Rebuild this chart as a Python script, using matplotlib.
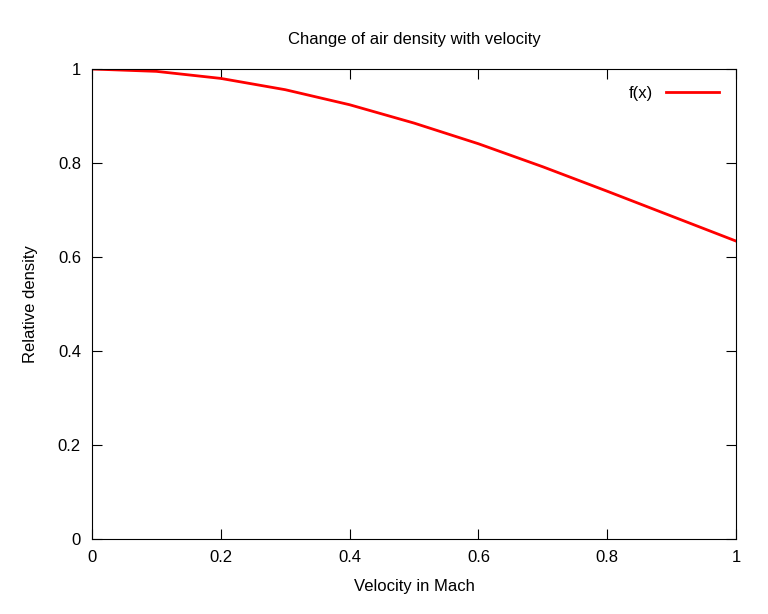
import matplotlib
matplotlib.use("Agg")
import matplotlib.pyplot as plt

plt.rcParams['font.family'] = ['Liberation Sans', 'DejaVu Sans']

# velocity (Mach) and relative density
mach = [0.0, 0.1, 0.2, 0.3, 0.4, 0.5, 0.6, 0.7, 0.8, 0.9, 1.0]
density = [1.0, 0.995, 0.980, 0.956, 0.924, 0.885, 0.841, 0.792, 0.740, 0.687, 0.634]

fig = plt.figure(figsize=(7.68, 6.14), dpi=100)
ax = fig.add_axes([0.1198, 0.1221, 0.8385, 0.7655])

ax.plot(mach, density, color='#ff0000', linewidth=2, label='f(x)')

ax.set_xlim(0, 1)
ax.set_ylim(0, 1)
ax.set_xticks([0, 0.2, 0.4, 0.6, 0.8, 1])
ax.set_xticklabels(['0', '0.2', '0.4', '0.6', '0.8', '1'])
ax.set_yticks([0, 0.2, 0.4, 0.6, 0.8, 1])
ax.set_yticklabels(['0', '0.2', '0.4', '0.6', '0.8', '1'])
ax.tick_params(direction='in', top=True, right=True, length=7, labelsize=12, pad=8)

ax.set_title('Change of air density with velocity', fontsize=12, pad=18)
ax.set_xlabel('Velocity in Mach', fontsize=12, labelpad=10)
ax.set_ylabel('Relative density', fontsize=12, labelpad=14)

leg = ax.legend(loc='upper right', frameon=False, fontsize=12, markerfirst=False,
                handlelength=3.2, borderaxespad=0.6)

fig.savefig('out.png')
